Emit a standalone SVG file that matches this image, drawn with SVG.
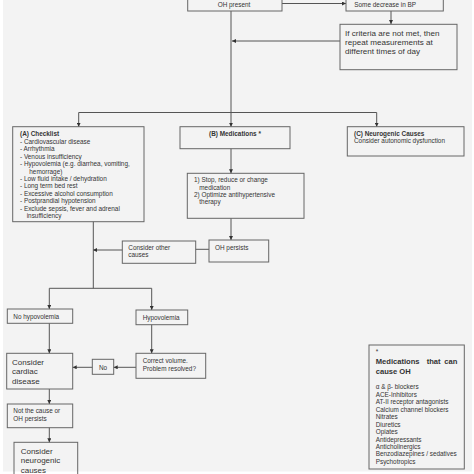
<svg xmlns="http://www.w3.org/2000/svg" width="474" height="474" viewBox="0 0 474 474">
<defs>
<marker id="ah" viewBox="0 0 6 6" refX="6" refY="3" markerWidth="4" markerHeight="4" orient="auto" markerUnits="userSpaceOnUse">
<path d="M0,0 L6,3 L0,6 z" fill="#333"/>
</marker>
</defs>
<style>
.bx{fill:none;stroke:#666;stroke-width:1}
.ln{fill:none;stroke:#555;stroke-width:1}
.ar{fill:none;stroke:#555;stroke-width:1;marker-end:url(#ah)}
text{font-family:"Liberation Sans",Arial,sans-serif;fill:#333;font-size:6.4px}
.b{font-weight:bold}
.big{font-size:8px}
.mid{font-size:8.1px}
</style>
<rect x="0" y="0" width="474" height="474" fill="#ffffff"/>
<rect x="3" y="0" width="469" height="471.5" fill="#f3f3f3"/>

<g id="connectors">
<path class="ar" d="M282,3.5 H346"/>
<path class="ar" d="M391,11 V24"/>
<path class="ln" d="M231,11 V112.5"/>
<path class="ar" d="M340,41 H232"/>
<path class="ln" d="M78.7,112.5 H376.7"/>
<path class="ar" d="M78.7,112.5 V126.7"/>
<path class="ar" d="M231,112.5 V126.7"/>
<path class="ar" d="M376.7,112.5 V126.7"/>
<path class="ar" d="M231,148.7 V173.3"/>
<path class="ar" d="M231,218.3 V240"/>
<path class="ln" d="M195.7,249.3 H209"/>
<path class="ar" d="M122.3,250 H93"/>
<path class="ln" d="M93.3,221.7 V288.3"/>
<path class="ln" d="M49.3,288.3 H151.7"/>
<path class="ar" d="M49.3,288.3 V309"/>
<path class="ar" d="M151.7,288.3 V310"/>
<path class="ar" d="M49.3,323.3 V353.3"/>
<path class="ar" d="M151.7,324.7 V353.3"/>
<path class="ar" d="M136,367.3 H113.7"/>
<path class="ar" d="M92.3,367.3 H72.7"/>
<path class="ar" d="M49.3,389 V404"/>
<path class="ar" d="M49.3,427.7 V442.3"/>
</g>

<g id="oh-present">
<rect class="bx" x="187.7" y="-5" width="94.3" height="16"/>
<text x="234" y="6.5" text-anchor="middle">OH present</text>
</g>
<g id="some-decrease">
<rect class="bx" x="346" y="-5" width="97.3" height="16"/>
<text x="354.3" y="6.5">Some decrease in BP</text>
</g>
<g id="criteria">
<rect class="bx" x="340" y="24.3" width="117" height="45.4"/>
<text class="mid" x="345" y="35.5">If criteria are not met, then</text>
<text class="mid" x="345" y="44.8">repeat measurements  at</text>
<text class="mid" x="345" y="54">different times of day</text>
</g>
<g id="checklist">
<rect class="bx" x="12.7" y="126.7" width="131.3" height="95"/>
<text class="b" x="20" y="136.3">(A) Checklist</text>
<text x="20" y="144">- Cardiovascular disease</text>
<text x="20" y="151.3">- Arrhythmia</text>
<text x="20" y="158.8">- Venous insufficiency</text>
<text x="20" y="166.2">- Hypovolemia (e.g. diarrhea, vomiting,</text>
<text x="29.3" y="173.5">hemorrage)</text>
<text x="20" y="180.8">- Low fluid intake / dehydration</text>
<text x="20" y="188.2">- Long term bed rest</text>
<text x="20" y="195.8">- Excessive alcohol consumption</text>
<text x="20" y="203.2">- Postprandial hypotension</text>
<text x="20" y="210.5">- Exclude sepsis, fever and adrenal</text>
<text x="26.7" y="217.8">insufficiency</text>
</g>
<g id="medications">
<rect class="bx" x="180" y="126.7" width="110" height="22"/>
<text class="b" x="235" y="136" text-anchor="middle">(B) Medications *</text>
</g>
<g id="neurogenic">
<rect class="bx" x="347.3" y="126.7" width="116.7" height="29.3"/>
<text class="b" x="354" y="136">(C) Neurogenic Causes</text>
<text x="354" y="143.3">Consider autonomic dysfunction</text>
</g>
<g id="stop-reduce">
<rect class="bx" x="187.3" y="173.3" width="116.7" height="45"/>
<text x="194" y="182.3">1) Stop, reduce or change</text>
<text x="199.3" y="189.6">medication</text>
<text x="194" y="196.9">2) Optimize antihypertensive</text>
<text x="199.3" y="204.2">therapy</text>
</g>
<g id="oh-persists">
<rect class="bx" x="209" y="240" width="59.7" height="22"/>
<text x="215" y="249.5">OH persists</text>
</g>
<g id="consider-other">
<rect class="bx" x="122.3" y="241" width="73.4" height="22.3"/>
<text x="128.3" y="249.7">Consider other</text>
<text x="128.3" y="257.3">causes</text>
</g>
<g id="no-hypovolemia">
<rect class="bx" x="7.3" y="309" width="65.4" height="14.3"/>
<text x="13.3" y="318.5">No hypovolemia</text>
</g>
<g id="hypovolemia">
<rect class="bx" x="136" y="310" width="51.7" height="14.7"/>
<text x="142.7" y="319.5">Hypovolemia</text>
</g>
<g id="cardiac">
<rect class="bx" x="6.7" y="353.3" width="66" height="35.7"/>
<text class="big" x="12" y="365">Consider</text>
<text class="big" x="12" y="374.3">cardiac</text>
<text class="big" x="12" y="383.7">disease</text>
</g>
<g id="correct-volume">
<rect class="bx" x="136" y="353.3" width="69.7" height="25"/>
<text x="142.7" y="363.3">Correct volume.</text>
<text x="142.7" y="371">Problem  resolved?</text>
</g>
<g id="no">
<rect class="bx" x="92.3" y="359.3" width="21.4" height="15"/>
<text x="103" y="369.5" text-anchor="middle">No</text>
</g>
<g id="not-cause">
<rect class="bx" x="7.3" y="404" width="65.4" height="23.7"/>
<text x="13.3" y="413">Not  the cause or</text>
<text x="13.3" y="420.7">OH persists</text>
</g>
<g id="consider-neurogenic">
<rect class="bx" x="14" y="442.3" width="63.7" height="40"/>
<text class="big" x="20.7" y="453.5">Consider</text>
<text class="big" x="20.7" y="463.3">neurogenic</text>
<text class="big" x="20.7" y="472.6">causes</text>
</g>
<g id="med-list">
<rect class="bx" x="369" y="345" width="95.3" height="124"/>
<text x="375.7" y="354">*</text>
<text class="b" style="font-size:7.6px" x="375.7" y="364.3">Medications</text>
<text class="b" style="font-size:7.6px" x="426.7" y="364.3">that</text>
<text class="b" style="font-size:7.6px" x="444.3" y="364.3">can</text>
<text class="b" style="font-size:7.6px" x="375.7" y="373.8">cause OH</text>
<text x="375.7" y="389">α &amp; β- blockers</text>
<text x="375.7" y="396.6">ACE-Inhibitors</text>
<text x="375.7" y="404.3">AT-II receptor antagonists</text>
<text x="375.7" y="411.7">Calcium channel blockers</text>
<text x="375.7" y="419">Nitrates</text>
<text x="375.7" y="426.6">Diuretics</text>
<text x="375.7" y="434">Opiates</text>
<text x="375.7" y="441.6">Antidepressants</text>
<text x="375.7" y="449">Anticholinergics</text>
<text x="375.7" y="456.3">Benzodiazepines / sedatives</text>
<text x="375.7" y="463.6">Psychotropics</text>
</g>
</svg>
